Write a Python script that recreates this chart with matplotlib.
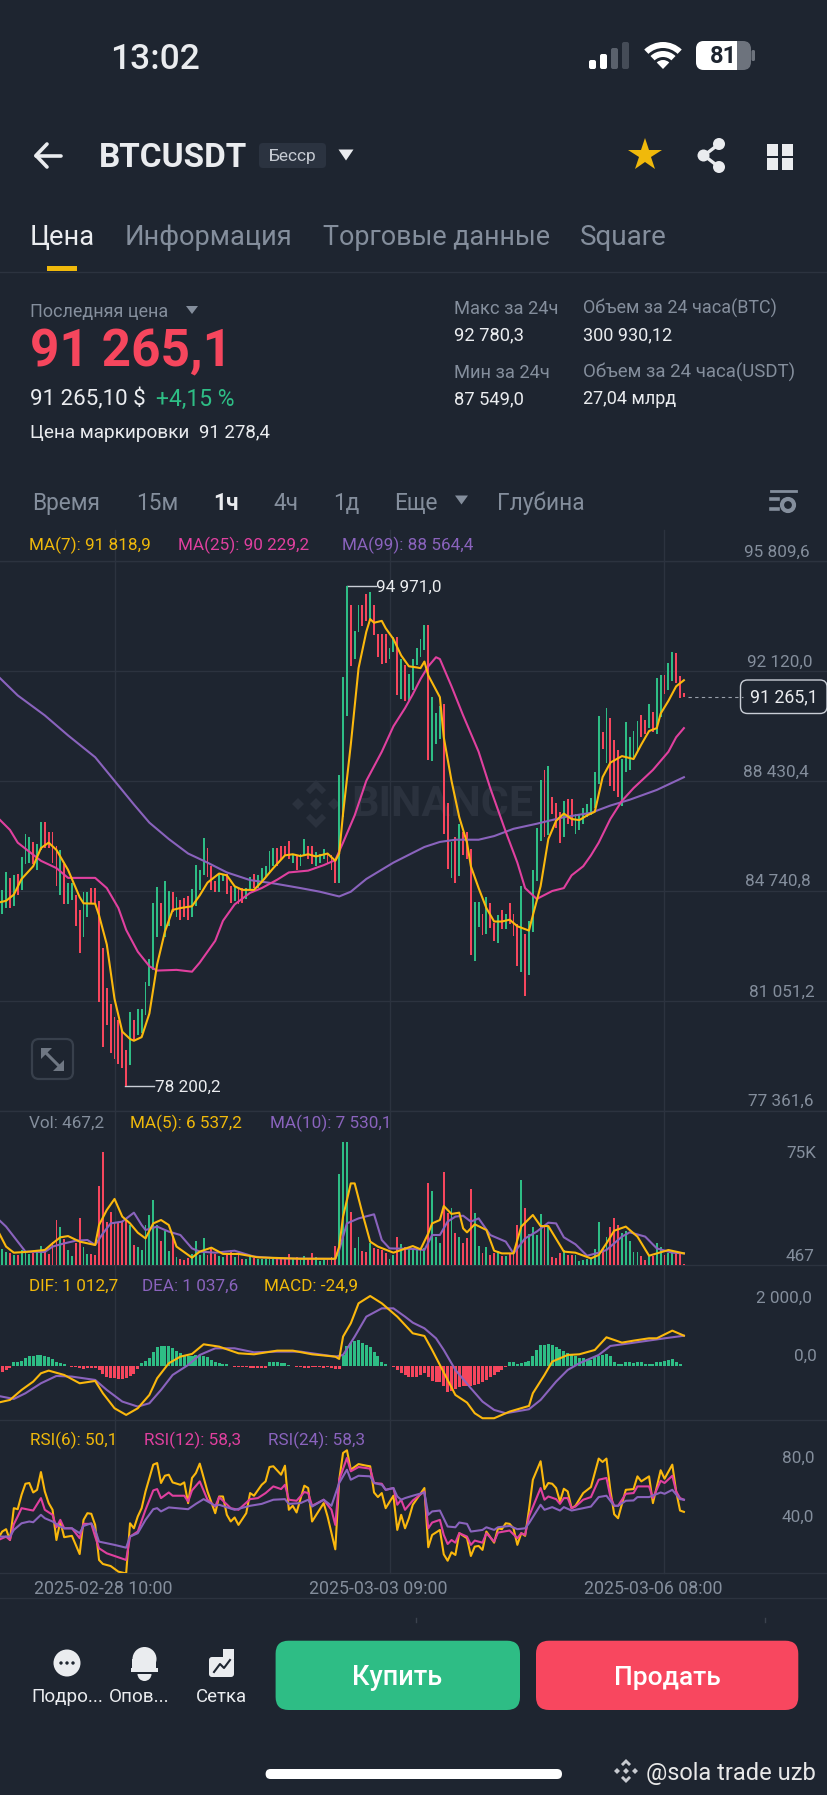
import matplotlib
matplotlib.use('Agg')
import matplotlib.pyplot as plt
from matplotlib.patches import Circle, FancyBboxPatch, Polygon, Rectangle, Wedge

plt.rcParams['font.family'] = ['Roboto', 'DejaVu Sans']

# candles, oldest first (the first one starts right at the left edge)
candle_high = [84782, 85392, 85172, 85294, 85331, 85880, 86673, 86551, 86392, 86307,
               87063, 87063, 86734, 86734, 86246, 86124, 85636, 85026, 85026, 84599,
               84111, 84721, 84721, 84843, 84843, 84416, 82830, 81488, 80939, 80512,
               80414, 80048, 79414, 80695, 80414, 80780, 80780, 81695, 82464, 84355,
               84880, 84355, 85075, 84758, 84721, 84538, 84440, 84514, 84562, 84806,
               85612, 85453, 86514, 86185, 85575, 85087, 85331, 85331, 85331, 84904,
               84904, 84843, 84843, 84843, 85209, 85331, 85270, 85514, 85575, 86100,
               86185, 86185, 86270, 86270, 86429, 86002, 85941, 86002, 86490, 86246,
               86246, 86063, 86002, 86148, 86026, 85941, 85819, 88625, 91919, 94971,
               94359, 93481, 94359, 94359, 94725, 94786, 94359, 93383, 93383, 93383,
               92895, 93261, 93261, 92529, 92346, 92017, 92529, 92895, 93200, 93664,
               93664, 91272, 90723, 90967, 91004, 87686, 86392, 86551, 86978, 86734,
               86734, 86148, 84392, 84392, 83989, 84538, 84355, 83684, 83928, 84111,
               83989, 84355, 83989, 83623, 84904, 83318, 83745, 85453, 86856, 88466,
               88808, 88930, 87893, 87710, 87405, 87771, 87832, 87832, 87344, 87283,
               87527, 87649, 87869, 88747, 90614, 90089, 90882, 90553, 89808, 89479,
               89174, 90431, 89906, 90113, 90455, 90638, 90492, 91004, 90760, 91882,
               91980, 91980, 92383, 92773, 92736, 91956, 91394]
candle_low = [83989, 84172, 84172, 84233, 84599, 84782, 85636, 85697, 85636, 85453,
              86124, 86185, 86185, 85697, 84928, 84599, 84318, 84294, 84440, 83586,
              82671, 83196, 83867, 84355, 84294, 81024, 79499, 80244, 79292, 79109,
              78926, 78804, 78200, 78889, 79719, 79926, 79963, 80573, 81549, 82098,
              83196, 83562, 83196, 83562, 84050, 83867, 83782, 83867, 83782, 83867,
              84233, 84782, 85270, 85209, 84782, 84721, 84721, 85087, 84660, 84355,
              84416, 84294, 84355, 84477, 84782, 84843, 84843, 85087, 85209, 85331,
              85575, 85575, 85819, 85941, 85819, 85697, 85453, 85575, 85941, 85819,
              85636, 85575, 85697, 85819, 85697, 85453, 85026, 85026, 87222, 90614,
              92285, 92529, 93444, 93627, 93810, 93810, 93322, 92590, 92370, 92407,
              92529, 92773, 91309, 91187, 91126, 91126, 91492, 92346, 92590, 92834,
              89137, 89113, 89662, 89845, 86673, 85477, 85172, 85026, 85246, 85965,
              85819, 82586, 82403, 83538, 83257, 83318, 83501, 83074, 83013, 83464,
              83477, 83623, 83220, 82220, 82037, 81207, 81915, 83379, 85087, 86429,
              86551, 86612, 87344, 86856, 86344, 86551, 86978, 86917, 86673, 86795,
              86978, 87222, 87283, 87527, 88320, 89516, 89052, 88259, 88100, 87893,
              87588, 88747, 88808, 89174, 89418, 89906, 90004, 90211, 90089, 90028,
              90577, 91346, 91492, 91797, 91736, 91224, 91272]
candle_dir = ("GGRGRGGGRG" "GRRRRGRGGR" "RGGRRRRRRR" "RRRGRGGGGG" "GRGGRGRRRG"
              "GGGRRRGGRR" "GRRGGRGGGG" "GRRRRGRGGR" "RGGGRRRGGG" "RGGRRGRRRR"
              "GGRGRGGGGG" "RGGGRRGRGR" "RRGGRGRRGR" "GRRRGRGGGG" "RGRRRGRRGG"
              "GGGGGRGRRR" "GGGGGRRGRG" "GRGGRRR")

ma7_x = [0, 2, 4, 6, 9, 11, 13, 15, 18, 21, 22, 25, 26, 28, 30, 32, 34, 35, 37, 39, 41, 43, 45, 47, 50, 52, 54, 57,
         59, 61, 63, 66, 68, 71, 74, 76, 78, 80, 82, 85, 87, 88, 89, 91, 93, 95, 96, 97, 99, 100, 102, 104, 106,
         108, 109, 110, 111, 114, 115, 117, 119, 121, 122, 124, 126, 128, 130, 132, 134, 137, 138, 140, 142, 144,
         146, 148, 150, 152, 154, 156, 158, 161, 164, 166, 168, 170, 171, 173, 175, 177]
ma7_y = [84355, 84416, 84623, 85148, 85575, 86185, 86368, 86124, 85453, 84538, 84331, 84318, 83928, 82952, 81122,
         80024, 79780, 79719, 79841, 80634, 82281, 83379, 84111, 84172, 84233, 84599, 85026, 85331, 85270, 84904,
         84782, 84782, 85050, 85514, 85941, 85978, 85917, 85978, 85904, 86002, 85758, 86002, 87344, 89662, 92224,
         93444, 93871, 93749, 93810, 93566, 93200, 92651, 92285, 92248, 92224, 92444, 91980, 91248, 89906, 88442,
         87222, 86368, 85575, 84843, 84172, 83721, 83721, 83782, 83562, 83416, 83928, 84904, 86490, 87100, 87344,
         87161, 87124, 87283, 87405, 88564, 89052, 89272, 89174, 89662, 90113, 90211, 90699, 91126, 91614, 91819]
ma25_x = [0, 3, 5, 8, 11, 15, 18, 25, 28, 31, 33, 36, 39, 41, 46, 50, 52, 56, 58, 61, 65, 68, 72, 75, 80, 84, 87, 89,
          92, 95, 99, 102, 105, 107, 109, 111, 113, 114, 117, 120, 124, 127, 131, 134, 136, 139, 143, 146, 148, 151,
          153, 155, 158, 161, 164, 169, 173, 175, 177]
ma25_y = [87185, 86795, 86368, 86063, 85758, 85514, 85185, 85185, 84843, 84172, 83440, 82708, 82220, 82074, 82098,
          82037, 82342, 83074, 83745, 84294, 84684, 84843, 85124, 85368, 85429, 85612, 85782, 86368, 87283, 88442,
          89418, 90272, 90882, 91346, 91858, 92285, 92590, 92529, 91614, 90638, 89418, 88198, 86734, 85697, 84843,
          84477, 84745, 84843, 85270, 85575, 85941, 86368, 87161, 87771, 88198, 88808, 89418, 89906, 90211]
ma99_x = [0, 5, 12, 18, 25, 30, 35, 39, 44, 49, 54, 59, 65, 71, 78, 83, 88, 91, 95, 102, 107, 110, 114, 118, 124, 128,
          133, 139, 146, 153, 158, 163, 170, 177]
ma99_y = [91943, 91309, 90638, 89967, 89235, 88442, 87649, 87039, 86490, 86002, 85697, 85368, 85111, 85002, 84843,
          84721, 84562, 84721, 85148, 85697, 86026, 86222, 86392, 86466, 86466, 86588, 86832, 87002, 87222, 87368,
          87612, 87808, 88137, 88564]

# volume in thousands
volume = [9.0, 7.5, 6.9, 5.6, 5.6, 8.4, 6.9, 6.2, 6.5, 7.5, 10.6, 9.0, 6.2, 13.1, 25.2, 21.1, 14.4, 8.4, 5.0, 12.1,
          26.1, 9.9, 6.2, 6.2, 5.4, 44.2, 63.5, 24.3, 29.9, 23.3, 23.7, 24.3, 25.2, 22.4, 11.2, 9.9, 8.4, 22.4, 28.0,
          36.4, 22.4, 13.6, 19.2, 8.0, 16.2, 4.7, 3.2, 2.8, 3.7, 6.2, 13.6, 5.6, 14.9, 5.6, 8.8, 6.2, 5.0, 4.3, 5.6,
          8.4, 4.3, 5.6, 3.2, 3.2, 4.7, 3.7, 3.2, 3.2, 3.2, 3.2, 3.7, 3.2, 3.7, 3.7, 6.0, 3.2, 4.3, 2.8, 5.0, 3.2,
          6.9, 4.3, 2.4, 3.2, 3.7, 4.7, 10.6, 51.0, 68.7, 68.7, 29.9, 9.3, 15.5, 8.0, 7.5, 12.5, 9.3, 8.8, 8.4, 6.5,
          3.2, 5.6, 15.5, 11.8, 9.9, 10.3, 9.3, 9.3, 9.3, 9.3, 45.7, 41.6, 15.9, 12.1, 52.3, 28.9, 31.7, 17.7, 15.5,
          12.1, 14.9, 42.4, 29.3, 10.6, 6.5, 10.3, 5.6, 6.9, 8.0, 5.0, 5.0, 6.2, 6.9, 22.4, 47.6, 31.7, 17.2, 21.1,
          16.8, 28.6, 22.4, 21.8, 4.3, 3.7, 6.9, 8.4, 5.6, 5.6, 5.6, 2.2, 2.8, 3.2, 3.7, 9.0, 23.9, 9.3, 15.9, 21.5,
          26.1, 22.4, 17.7, 19.2, 13.6, 7.5, 7.1, 5.2, 2.8, 5.2, 5.0, 12.1, 10.3, 5.6, 6.9, 8.4, 6.9, 6.5, 0.467]
vol_ma5_x = [0, 2, 4, 7, 12, 14, 16, 18, 21, 25, 26, 28, 30, 32, 34, 36, 38, 40, 42, 44, 46, 50, 52, 55, 58, 62, 67,
             78, 87, 88, 89, 91, 92, 94, 96, 98, 102, 107, 109, 111, 112, 114, 115, 117, 119, 120, 121, 123, 126, 128,
             130, 133, 135, 138, 140, 142, 146, 149, 153, 155, 157, 159, 162, 165, 168, 173, 177]
vol_ma5_y = [18.7, 10.3, 6.9, 7.3, 8.4, 12.1, 15.5, 16.2, 13.1, 11.2, 22.4, 30.8, 37.0, 27.1, 23.3, 18.1, 14.9, 23.3,
             25.2, 22.4, 10.3, 4.1, 7.5, 9.7, 6.2, 6.2, 4.3, 3.5, 3.5, 10.3, 27.1, 45.7, 45.7, 28.9, 13.1, 10.3, 6.9,
             10.6, 8.8, 17.7, 23.3, 25.2, 33.0, 28.6, 29.3, 20.5, 18.3, 22.8, 19.6, 8.0, 6.5, 6.5, 21.5, 28.0, 21.8,
             21.8, 7.5, 6.9, 3.7, 5.6, 12.1, 19.2, 21.5, 15.9, 5.2, 8.4, 6.5]
vol_ma10_x = [0, 2, 5, 7, 12, 14, 17, 20, 23, 25, 27, 29, 32, 35, 37, 38, 41, 44, 47, 50, 52, 56, 61, 66, 72, 87, 88,
              90, 93, 97, 99, 101, 107, 110, 112, 114, 116, 118, 120, 122, 124, 127, 131, 133, 136, 139, 142, 144,
              146, 149, 152, 155, 157, 161, 163, 167, 170, 174, 177]
vol_ma10_y = [25.6, 21.5, 13.1, 7.5, 7.3, 10.3, 12.1, 13.6, 14.0, 11.2, 17.7, 23.3, 24.3, 29.3, 22.4, 19.6, 21.5,
              18.7, 16.8, 9.3, 7.5, 6.9, 8.0, 4.7, 3.7, 3.4, 8.4, 23.3, 26.1, 28.4, 14.0, 9.3, 9.0, 8.4, 16.8, 16.8,
              24.3, 27.1, 27.6, 24.3, 26.1, 16.8, 13.1, 6.5, 14.9, 18.7, 23.7, 23.3, 15.5, 11.6, 5.2, 6.9, 8.4, 15.9,
              18.3, 15.9, 9.3, 6.9, 6.5]

macd_hist = [-208, -139, -92, 116, 116, 173, 254, 324, 347, 358, 381, 347, 289, 231, 139, 104, 69, -23, -35, -46,
             -69, -116, -92, -92, -69, -139, -289, -381, -428, -439, -462, -462, -439, -370, -289, -116, 92, 173, 277,
             462, 636, 670, 694, 670, 601, 520, 439, 381, 324, 347, 370, 370, 347, 289, 197, 139, 92, 69, 46, -23,
             -35, -46, -58, -58, -81, -81, -81, -81, -81, 116, 116, 116, 92, 92, 35, -23, -35, -58, -81, -81,
             -35, -58, -46, -69, -35, -92, -116, -116, 370, 694, 786, 867, 902, 786, 717, 636, 486, 324, 139, 58,
             -12, -46, -139, -254, -324, -381, -405, -405, -324, -254, -405, -520, -578, -578, -694, -902, -867, -809,
             -751, -694, -694, -694, -670, -647, -578, -486, -405, -324, -231, -139, -58, 116, 116, 46, 92, 116, 173,
             347, 555, 717, 728, 751, 717, 636, 578, 520, 439, 370, 324, 277, 254, 231, 208, 289, 347, 381, 405, 324,
             139, 69, 46, 116, 116, 92, 139, 139, 69, 46, 46, 116, 139, 150, 185, 231, 116, 58, -24.9]
dif_x = [0, 3, 6, 9, 11, 13, 17, 21, 25, 27, 30, 33, 36, 39, 41, 44, 47, 50, 53, 57, 62, 66, 72, 76, 81, 87, 88, 89,
         91, 93, 96, 99, 103, 107, 110, 112, 114, 116, 118, 121, 123, 125, 128, 132, 137, 138, 141, 143, 147, 150,
         154, 157, 161, 164, 168, 170, 174, 177]
dif_y = [-1283, -1191, -844, -555, -266, -173, -324, -613, -532, -959, -1480, -1711, -1480, -1017, -439, 81, 312, 405,
         740, 659, 428, 393, 520, 520, 393, 312, 231, 1006, 1468, 2162, 2416, 2162, 1699, 1121, 1029, 543, 23, -497,
         -1017, -1283, -1653, -1826, -1826, -1595, -1399, -959, -324, 139, 370, 393, 543, 983, 798, 867, 948, 948,
         1214, 1040]
dea_x = [0, 4, 7, 11, 15, 19, 25, 28, 32, 36, 39, 42, 45, 49, 52, 56, 61, 66, 72, 78, 87, 89, 92, 95, 99, 102, 105,
         107, 110, 113, 115, 118, 122, 125, 128, 131, 137, 140, 144, 147, 150, 155, 158, 163, 172, 177]
dea_y = [-1052, -1156, -959, -613, -358, -381, -497, -844, -1248, -1422, -1306, -844, -324, 23, 370, 601, 601, 462,
         486, 486, 312, 370, 1006, 1699, 1988, 1988, 1699, 1491, 1295, 948, 543, -150, -786, -1248, -1537, -1653,
         -1514, -1191, -555, -150, 81, 370, 682, 775, 948, 1037]

rsi6_x = [0, 1, 2, 3, 4, 5, 6, 7, 8, 9, 10, 11, 12, 13, 14, 15, 16, 17, 19, 21, 22, 23, 24, 25, 26, 27, 29, 31, 33, 34,
          35, 36, 37, 38, 40, 41, 42, 43, 44, 45, 47, 48, 49, 50, 51, 52, 54, 56, 57, 58, 59, 60, 61, 62, 64, 65, 66,
          68, 69, 70, 71, 73, 74, 75, 76, 77, 79, 80, 81, 84, 85, 87, 88, 89, 90, 91, 93, 95, 96, 97, 98, 99, 100,
          102, 103, 104, 105, 106, 107, 110, 111, 112, 114, 115, 116, 117, 118, 119, 121, 122, 123, 124, 125, 126,
          128, 129, 130, 131, 132, 133, 134, 135, 136, 137, 138, 140, 141, 142, 143, 144, 145, 146, 147, 148, 149,
          151, 153, 155, 156, 157, 158, 159, 160, 162, 164, 165, 166, 168, 169, 171, 172, 174, 175, 176, 177]
rsi6_y = [32.3, 36.8, 38.4, 31.1, 52.6, 51.9, 61.6, 69.1, 69.6, 63.2, 65.0, 77.0, 63.9, 56.0, 51.5, 31.1, 43.6, 33.0,
          33.9, 21.6, 44.7, 49.2, 48.8, 41.3, 17.6, 14.9, 13.5, 9.7, 8.5, 42.4, 39.0, 47.0, 52.6, 63.9, 82.0, 83.1,
          69.6, 74.5, 75.2, 70.0, 68.4, 70.0, 56.0, 73.0, 76.3, 82.7, 63.9, 49.2, 60.5, 60.5, 48.1, 43.6, 46.3, 41.3,
          49.2, 62.8, 61.0, 68.4, 70.7, 80.4, 80.9, 75.2, 81.3, 51.5, 54.2, 49.7, 67.8, 66.2, 43.6, 56.0, 47.0, 24.8,
          71.8, 89.9, 91.7, 78.6, 82.4, 81.3, 80.9, 63.2, 60.1, 62.8, 52.6, 61.0, 37.9, 48.1, 39.0, 45.8, 54.9, 66.2,
          26.2, 34.5, 37.9, 21.4, 17.1, 22.8, 21.0, 35.7, 32.3, 20.3, 26.6, 27.1, 24.4, 36.8, 29.3, 39.0, 38.4, 42.4,
          42.0, 39.0, 27.8, 35.7, 33.9, 51.5, 71.8, 84.3, 65.5, 69.6, 69.1, 66.2, 57.1, 65.7, 63.9, 52.6, 54.2, 62.8,
          66.9, 86.1, 83.8, 86.1, 65.0, 48.5, 45.8, 65.0, 65.5, 74.1, 70.7, 74.1, 56.0, 78.2, 72.5, 82.0, 63.9, 51.0,
          50.1]
rsi12_x = [0, 2, 3, 4, 5, 6, 8, 9, 11, 12, 14, 15, 16, 17, 19, 21, 22, 24, 25, 26, 28, 31, 33, 34, 36, 38, 40, 41, 42,
           44, 45, 48, 49, 50, 52, 54, 56, 57, 60, 62, 65, 67, 69, 71, 73, 74, 75, 77, 79, 80, 81, 84, 86, 87, 88, 90,
           91, 93, 96, 97, 99, 100, 102, 103, 104, 105, 107, 110, 111, 112, 114, 115, 116, 117, 118, 119, 121, 122,
           123, 125, 126, 128, 129, 132, 134, 135, 136, 137, 140, 141, 142, 144, 145, 146, 147, 148, 149, 151, 153,
           155, 157, 158, 159, 160, 162, 164, 165, 168, 169, 171, 172, 174, 175, 176, 177]
rsi12_y = [31.1, 33.4, 31.1, 41.8, 47.0, 52.6, 51.5, 51.0, 59.4, 51.5, 48.1, 39.7, 44.7, 39.0, 39.0, 32.3, 42.0, 42.0,
           33.4, 25.5, 22.1, 19.4, 17.6, 33.4, 36.8, 51.5, 64.6, 65.5, 59.4, 63.2, 61.0, 61.0, 57.1, 64.6, 70.7, 58.3,
           53.7, 60.1, 52.6, 51.5, 58.7, 59.4, 62.8, 67.3, 65.5, 68.4, 58.3, 57.6, 63.5, 62.8, 54.2, 58.3, 51.5, 41.3,
           71.8, 86.5, 77.5, 80.4, 79.3, 69.6, 69.1, 65.0, 66.2, 54.9, 58.3, 51.5, 57.8, 63.9, 39.0, 42.9, 44.7, 34.5,
           28.4, 31.1, 29.3, 35.7, 33.4, 27.8, 30.7, 29.3, 35.7, 30.0, 36.1, 37.5, 32.3, 35.7, 34.5, 47.0, 66.2, 58.3,
           60.5, 58.7, 55.5, 59.4, 59.4, 52.6, 53.7, 58.3, 60.1, 71.8, 73.0, 60.5, 54.2, 54.2, 62.3, 62.8, 67.3, 67.3,
           59.4, 71.1, 69.6, 74.5, 63.9, 59.4, 58.3]
rsi24_x = [0, 3, 4, 6, 8, 9, 11, 12, 14, 16, 17, 19, 21, 22, 24, 25, 26, 30, 33, 34, 36, 38, 40, 41, 42, 44, 49, 51,
           53, 56, 57, 61, 65, 68, 71, 74, 75, 78, 80, 81, 84, 86, 88, 90, 91, 93, 96, 97, 99, 100, 102, 103, 104, 105,
           107, 110, 111, 112, 114, 116, 118, 119, 121, 122, 125, 126, 128, 129, 132, 134, 136, 137, 140, 141, 143,
           145, 146, 148, 151, 153, 155, 157, 159, 160, 162, 164, 165, 168, 171, 172, 174, 176, 177]
rsi24_y = [33.4, 33.4, 37.9, 42.4, 43.6, 43.1, 48.1, 45.8, 43.6, 40.2, 39.0, 39.0, 35.7, 40.6, 42.4, 37.9, 30.0, 27.8,
           25.9, 33.4, 35.7, 44.7, 51.9, 52.6, 50.4, 53.1, 51.9, 55.5, 58.7, 54.2, 54.9, 51.5, 54.2, 55.5, 58.3, 58.7,
           55.5, 56.0, 58.3, 53.7, 58.3, 54.2, 69.6, 78.6, 71.8, 74.5, 74.1, 69.6, 68.4, 65.0, 66.2, 60.5, 58.3, 59.4,
           61.0, 63.2, 48.1, 50.4, 51.0, 40.2, 39.7, 42.9, 42.0, 36.8, 37.9, 39.7, 37.9, 39.7, 40.6, 38.4, 39.0, 42.4,
           54.9, 51.5, 53.3, 51.0, 53.3, 51.0, 52.6, 53.7, 60.1, 61.0, 54.2, 54.2, 57.6, 57.8, 60.1, 60.1, 63.2, 62.3,
           65.0, 58.7, 58.3]

price_ticks = [95809.6, 92120.0, 88430.4, 84740.8, 81051.2, 77361.6]
price_tick_labels = ['95 809,6', '92 120,0', '88 430,4', '84 740,8', '81 051,2', '77 361,6']
date_ticks = [30, 101, 172]
date_labels = ['2025-02-28 10:00', '2025-03-03 09:00', '2025-03-06 08:00']
last_price = 91265.1

BG = '#1e2530'
GRID = '#2c333f'
GREEN = '#2ebd85'
RED = '#f6465d'
YELLOW = '#f0b90b'
PINK = '#e0409f'
PURPLE = '#8a63bd'
GRAY = '#848e9c'
WHITE = '#eaecef'
LINE_W = 1.5

W, H = 828, 1795
fig = plt.figure(figsize=(W / 100, H / 100), dpi=100, facecolor=BG)

ui = fig.add_axes([0, 0, 1, 1])
ui.set_xlim(0, W)
ui.set_ylim(H, 0)
ui.axis('off')


def label(x, y, s, color=WHITE, size=12.3, ha='left', weight='normal', zorder=5):
    ui.text(x, y + 1.5, s, color=color, fontsize=size, ha=ha, va='center', fontweight=weight, zorder=zorder)


def panel(top, bottom, ymin, ymax):
    ax = fig.add_axes([0, 1 - bottom / H, 1, (bottom - top) / H])
    ax.set_xlim(0.431, 214.2)
    ax.set_ylim(ymin, ymax)
    ax.axis('off')
    ax.patch.set_alpha(0)
    return ax


def binance_logo(cx, cy, s, color, zorder=1):
    upper = [(0, -1), (.42, -.58), (.25, -.41), (0, -.66), (-.25, -.41), (-.42, -.58)]
    lower = [(x, -y) for x, y in upper]
    left = [(-1, 0), (-.75, -.25), (-.5, 0), (-.75, .25)]
    right = [(-x, y) for x, y in left]
    mid = [(0, -.25), (.25, 0), (0, .25), (-.25, 0)]
    for shape in (upper, lower, left, right, mid):
        ui.add_patch(Polygon([(cx + s * x, cy + s * y) for x, y in shape], color=color, lw=0, zorder=zorder))


def triangle(cx, cy, w, h, color):
    ui.add_patch(Polygon([(cx - w / 2, cy - h / 2), (cx + w / 2, cy - h / 2), (cx, cy + h / 2)], color=color, lw=0))


def rounded(x0, y0, x1, y1, r, face, edge='none', lw=0, zorder=2):
    ui.add_patch(FancyBboxPatch((x0, y0), x1 - x0, y1 - y0, boxstyle=f'round,pad=0,rounding_size={r}',
                                fc=face, ec=edge, lw=lw, zorder=zorder))


# status bar
label(110, 58, '13:02', size=25.5, weight='medium')
for i, (bar_h, col) in enumerate(zip([9, 15, 21, 27], ['#ffffff', '#ffffff', '#5a616c', '#454c57'])):
    rounded(589 + i * 11, 69 - bar_h, 596 + i * 11, 69, 2, col)
for r, w in [(27, 6), (18, 6), (9, 9)]:
    ui.add_patch(Wedge((663, 69), r, 226, 314, width=w, color='#ffffff', lw=0))
rounded(696, 41, 751, 70, 8, '#6d737d')
rounded(696, 41, 737, 70, 8, '#ffffff', zorder=3)
ui.add_patch(Rectangle((727, 41), 10, 29, color='#ffffff', lw=0, zorder=3))
rounded(751.5, 50, 755, 61, 1.5, '#6d737d')
label(723, 55, '81', color='#1e2530', size=17, ha='center', weight='bold')

# header
ui.plot([36, 61], [155.5, 155.5], color=WHITE, lw=2.6, solid_capstyle='round')
ui.plot([47, 36, 47], [144, 155.5, 167], color=WHITE, lw=2.6, solid_capstyle='round', solid_joinstyle='round')
label(99, 156.5, 'BTCUSDT', size=24, weight='bold')
rounded(259, 143, 326, 168, 4, '#2b3340')
label(292.5, 155, 'Бесср', color='#c4c9d1', size=12.5, ha='center')
triangle(346, 155, 15, 11, WHITE)
ui.plot([645], [155], marker='*', color=YELLOW, ms=25, mew=0)
ui.plot([719, 704, 719], [144, 155.5, 167], color=WHITE, lw=2.4)
for cx, cy in [(719, 144), (703.5, 155.5), (719, 167)]:
    ui.add_patch(Circle((cx, cy), 6, color=WHITE, lw=0))
for x0 in (767, 782):
    for y0 in (144, 158):
        ui.add_patch(Rectangle((x0, y0), 11.5, 11.5, color=WHITE, lw=0))

# tabs
label(30, 236, 'Цена', size=19.6)
label(125, 236, 'Информация', color=GRAY, size=19.6)
label(323, 236, 'Торговые данные', color=GRAY, size=19.4)
label(580, 236, 'Square', color=GRAY, size=20)
ui.add_patch(Rectangle((47.5, 266), 29.5, 5, color=YELLOW, lw=0))
ui.plot([0, W], [271.5, 271.5], color=GRID, lw=1)

# market summary
label(30, 310, 'Последняя цена', color=GRAY, size=13)
triangle(192, 310, 12, 8, GRAY)
label(30, 350.5, '91 265,1', color=RED, size=37, weight='bold')
label(30, 398, '91 265,10 $', size=16)
label(156, 398, '+4,15 %', color=GREEN, size=16.5)
label(30, 431, 'Цена маркировки', size=13.6)
label(199, 431, '91 278,4', size=13.4)
label(454, 307, 'Макс за 24ч', color=GRAY, size=13.2)
label(454, 334, '92 780,3', size=13.2)
label(454, 371, 'Мин за 24ч', color=GRAY, size=13.2)
label(454, 398, '87 549,0', size=13.2)
label(583.5, 307, 'Объем за 24 часа(BTC)', color=GRAY, size=13)
label(583.5, 334, '300 930,12', size=13)
label(583.5, 371, 'Объем за 24 часа(USDT)', color=GRAY, size=13.4)
label(583.5, 398, '27,04 млрд', size=13)

# interval row
label(32, 502, 'Время', color=GRAY, size=16.3)
label(136, 502, '15м', color=GRAY, size=16.3)
label(213, 502, '1ч', size=16.3, weight='bold')
label(273, 502, '4ч', color=GRAY, size=16.3)
label(333, 502, '1д', color=GRAY, size=16.3)
label(394, 502, 'Еще', color=GRAY, size=16.3)
triangle(461.5, 500, 13, 9, GRAY)
label(497, 502, 'Глубина', color=GRAY, size=16.3)
ui.plot([771, 796], [491, 491], color=GRAY, lw=2)
for yy in (499, 509):
    ui.plot([771, 778], [yy, yy], color=GRAY, lw=2.6)
ui.add_patch(Circle((788, 505), 6, fc='none', ec=GRAY, lw=3))

# panel separators and watermark
for yy in (561.3, 1111, 1265, 1419.5, 1573.3, 1598):
    ui.plot([0, W], [yy, yy], color=GRID, lw=1, zorder=0)
binance_logo(316, 804, 24, '#2b323e', zorder=0)
ui.text(442, 805, 'BINANCE', color='#2b323e', fontsize=31, fontweight='bold', ha='center', va='center', zorder=0)

# price panel
price_ax = panel(561.3, 1111, 77361.6, 95809.6)
xs = list(range(1, len(candle_high) + 1))
colors = [GREEN if d == 'G' else RED for d in candle_dir]
for tick in price_ticks:
    price_ax.axhline(tick, color=GRID, lw=1, zorder=0)
price_ax.bar(xs, [h - l for h, l in zip(candle_high, candle_low)], bottom=candle_low, width=0.48, color=colors, zorder=2)
price_ax.plot(ma99_x, ma99_y, color=PURPLE, lw=LINE_W, zorder=3)
price_ax.plot(ma25_x, ma25_y, color=PINK, lw=LINE_W, zorder=3)
price_ax.plot(ma7_x, ma7_y, color='#fbb80d', lw=LINE_W, zorder=4)
price_ax.plot([178, 192.2], [last_price, last_price], color='#9aa1ac', lw=0.8, ls=(0, (3, 3)), zorder=2)

label(29.5, 544, 'MA(7): 91 818,9', color=YELLOW)
label(178, 544, 'MA(25): 90 229,2', color=PINK)
label(342, 544, 'MA(99): 88 564,4', color=PURPLE)
for s, x, y in zip(price_tick_labels, [777, 780, 776, 778, 782, 781], [551, 660.5, 771, 880, 990.5, 1100]):
    label(x, y, s, color=GRAY, ha='center')
rounded(740.5, 680, 827, 713.5, 7, BG, edge='#c9ced6', lw=1, zorder=4)
label(783.5, 696, '91 265,1', size=12.8, ha='center')

# max / min markers
ui.plot([347, 376], [586, 586], color='#c9ced6', lw=1, zorder=4)
label(376, 586, '94 971,0')
ui.plot([125.5, 154], [1086, 1086], color='#c9ced6', lw=1, zorder=4)
label(155, 1086, '78 200,2')

# expand button
rounded(32, 1039, 73, 1079, 7, BG, edge='#38404c', lw=1.6)
ui.add_patch(Polygon([(41, 1048), (52, 1048), (41, 1059)], color='#6f7783', lw=0, zorder=3))
ui.add_patch(Polygon([(64, 1071), (53, 1071), (64, 1060)], color='#6f7783', lw=0, zorder=3))
ui.plot([44, 61], [1051, 1068], color='#6f7783', lw=2.2, zorder=3)

# volume panel
vol_ax = panel(1111, 1265, 0, 86.24)
vol_ax.bar(xs, volume, width=0.48, color=colors, zorder=2)
vol_ax.plot(vol_ma5_x, vol_ma5_y, color='#fbb80d', lw=LINE_W, zorder=4)
vol_ax.plot(vol_ma10_x, vol_ma10_y, color=PURPLE, lw=LINE_W, zorder=3)
label(29.5, 1122, 'Vol: 467,2', color=GRAY)
label(130, 1122, 'MA(5): 6 537,2', color=YELLOW)
label(270.5, 1122, 'MA(10): 7 530,1', color=PURPLE)
label(801, 1152, '75K', color=GRAY, ha='center')
label(800, 1255, '467', color=GRAY, ha='center')

# macd panel
macd_ax = panel(1265, 1419.5, -1870, 3492)
macd_colors = [GREEN if v >= 0 else RED for v in macd_hist]
macd_ax.bar(xs, macd_hist, width=0.78, color=macd_colors, zorder=2)
macd_ax.plot(dea_x, dea_y, color=PURPLE, lw=LINE_W, zorder=3)
macd_ax.plot(dif_x, dif_y, color='#fbb80d', lw=LINE_W, zorder=4)
label(29.5, 1285, 'DIF: 1 012,7', color=YELLOW)
label(142.5, 1285, 'DEA: 1 037,6', color=PURPLE)
label(264.5, 1285, 'MACD: -24,9', color=YELLOW)
label(784, 1297, '2 000,0', color=GRAY, ha='center')
label(805, 1355, '0,0', color=GRAY, ha='center')

# rsi panel
rsi_ax = panel(1419.5, 1573.3, 8.6, 112.5)
rsi_ax.plot(rsi6_x, rsi6_y, color='#fbb80d', lw=LINE_W, zorder=3)
rsi_ax.plot(rsi12_x, rsi12_y, color=PINK, lw=LINE_W, zorder=4)
rsi_ax.plot(rsi24_x, rsi24_y, color=PURPLE, lw=LINE_W, zorder=5)
label(30, 1439, 'RSI(6): 50,1', color=YELLOW)
label(144, 1439, 'RSI(12): 58,3', color=PINK)
label(268.5, 1439, 'RSI(24): 58,3', color=PURPLE)
label(798, 1457, '80,0', color=GRAY, ha='center')
label(798, 1516, '40,0', color=GRAY, ha='center')

# vertical grid lines and dates share the candle positions
for tick, s in zip(date_ticks, date_labels):
    px = -1.67 + 3.873 * tick
    ui.plot([px, px], [530, 1573.3], color=GRID, lw=1, zorder=0)
    label(px - 11, 1588, s, color=GRAY, size=12.8, ha='center')

# bottom bar
ui.add_patch(Circle((67, 1663), 13.5, color=WHITE, lw=0))
for dx in (-6, 0, 6):
    ui.add_patch(Circle((67 + dx, 1663), 1.7, color=BG, lw=0, zorder=3))
ui.add_patch(Circle((144.5, 1659), 12, color=WHITE, lw=0))
ui.add_patch(Rectangle((132.5, 1659), 24, 10, color=WHITE, lw=0))
ui.add_patch(Rectangle((131, 1668), 27, 4, color=WHITE, lw=0))
ui.add_patch(Wedge((144.5, 1674), 7, 0, 180, color=WHITE, lw=0))
rounded(209, 1657, 234, 1677, 3, WHITE)
ui.add_patch(Rectangle((223, 1649), 11, 10, color=WHITE, lw=0))
ui.plot([214, 220, 224, 230], [1672, 1664, 1668, 1660], color=BG, lw=1.5, zorder=3)
label(67, 1696, 'Подро...', size=13.6, ha='center')
label(139, 1696, 'Опов...', size=13.6, ha='center')
label(221, 1696, 'Сетка', size=13.4, ha='center')
rounded(275.6, 1640.7, 520, 1710, 13, GREEN)
rounded(536, 1640.7, 798.3, 1710, 13, '#f8475f')
label(397, 1676, 'Купить', color='#ffffff', size=19.5, ha='center', weight='medium')
label(667, 1676, 'Продать', color='#ffffff', size=19, ha='center', weight='medium')
rounded(265.6, 1769, 562, 1779, 5, '#ffffff')
binance_logo(626, 1771, 12, '#c7cad0', zorder=3)
label(646, 1772, '@sola trade uzb', color='#e8e8e8', size=17)
for x0 in (416, 765):
    ui.plot([x0, x0], [1618, 1622], color='#3b424e', lw=1)

fig.savefig('out.png', dpi=100, facecolor=BG)
